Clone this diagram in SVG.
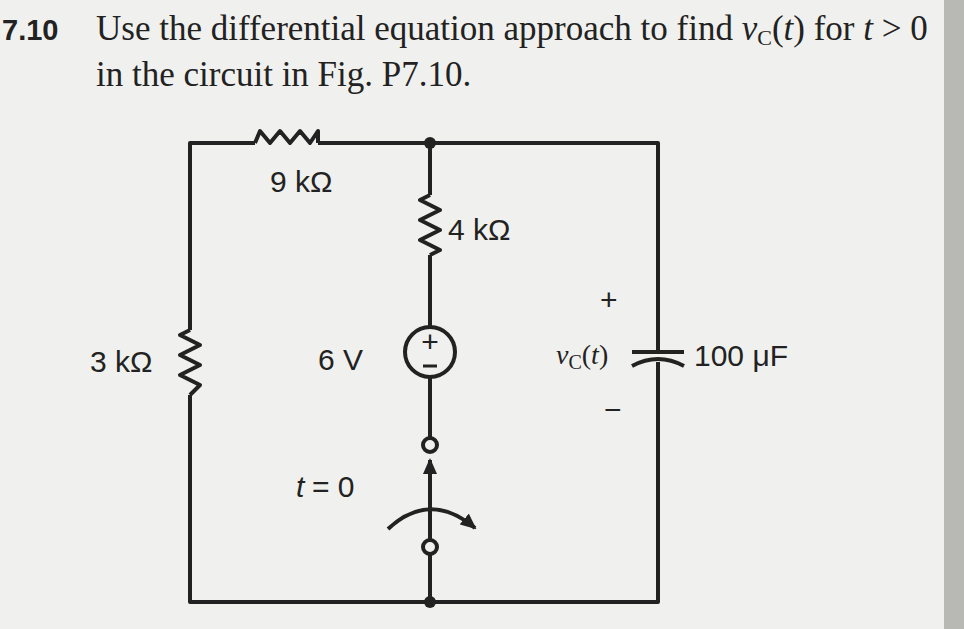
<svg xmlns="http://www.w3.org/2000/svg" width="964" height="629" viewBox="0 0 964 629">
<style>
.w{stroke:#222;stroke-width:4;fill:none;stroke-linejoin:round}
.t{font-family:"Liberation Sans",Arial,sans-serif;font-size:30px;fill:#222}
.s{font-family:"Liberation Serif","Times New Roman",serif;font-size:35px;fill:#222}
</style>
<defs>
<marker id="ah2" markerWidth="16" markerHeight="14" refX="14" refY="7" orient="auto" markerUnits="userSpaceOnUse"><path d="M0,0 L16,7 L0,14 z" fill="#222"/></marker></defs>
<rect width="964" height="629" fill="#f0f0ee"/>
<rect x="944" width="20" height="629" fill="#b8b8b4"/>
<g id="title">
<text x="2" y="40" class="t" style="font-size:29px;font-weight:bold">7.10</text>
<text x="96" y="40" class="s">Use the differential equation approach to find <tspan font-style="italic">v</tspan><tspan font-size="22" dy="5">C</tspan><tspan dy="-5">(</tspan><tspan font-style="italic">t</tspan>) for <tspan font-style="italic">t</tspan> &gt; 0</text>
<text x="96" y="86" class="s">in the circuit in Fig. P7.10.</text>
</g>
<g id="connectors">
<path class="w" d="M255,143 H190 V330 M190,395 V602 H658 V362 M658,352 V143 H318 M430,143 V195 M430,255 V327 M430,377 V438 M430,554 V602"/>
<circle cx="430" cy="143" r="6" fill="#222"/>
<circle cx="430" cy="602" r="6" fill="#222"/>
</g>
<g id="r9k"><path class="w" d="M255,143 L260,131 L270,143 L280,131 L290,143 L300,131 L310,143 L318,131 L318,143" stroke-width="3"/><text x="270" y="192" class="t">9 kΩ</text></g>
<g id="r4k"><path class="w" stroke-width="3" d="M430,195 L420,200 L440,210 L420,220 L440,230 L420,240 L440,250 L430,255"/><text x="448" y="240" class="t">4 kΩ</text></g>
<g id="r3k"><path class="w" stroke-width="3" d="M190,330 L180,335 L200,345 L180,355 L200,365 L180,375 L200,385 L190,395"/><text x="90" y="372" class="t">3 kΩ</text></g>
<g id="v6"><circle cx="430" cy="352" r="25" class="w" stroke-width="3"/><text x="430" y="352" class="t" text-anchor="middle" font-size="28">+</text><line x1="423" y1="366" x2="437" y2="366" stroke="#222" stroke-width="3"/><text x="318" y="370" class="t">6 V</text></g>
<g id="switch">
<circle cx="430" cy="445" r="7" class="w" stroke-width="3" fill="#f0f0ee"/>
<circle cx="430" cy="547" r="7" class="w" stroke-width="3" fill="#f0f0ee"/>
<path class="w" stroke-width="3" d="M430,540 V460" marker-end="url(#ah2)"/>
<path class="w" stroke-width="3" d="M388,529 Q430,490 475,528" marker-end="url(#ah2)"/>
<text x="296" y="497" class="t" font-style="italic">t</text><text x="312" y="497" class="t">= 0</text>
</g>
<g id="cap">
<path class="w" stroke-width="3" d="M632,352 H684 M632,366 Q658,352 684,366"/>
<text x="600" y="310" class="t">+</text>
<text x="604" y="420" class="t">−</text>
<text x="556" y="364" class="s" style="font-size:28px"><tspan font-style="italic">v</tspan><tspan font-size="20" dy="5">C</tspan><tspan dy="-5">(</tspan><tspan font-style="italic">t</tspan>)</text>
<text x="694" y="366" class="t">100 μF</text>
</g>
</svg>
